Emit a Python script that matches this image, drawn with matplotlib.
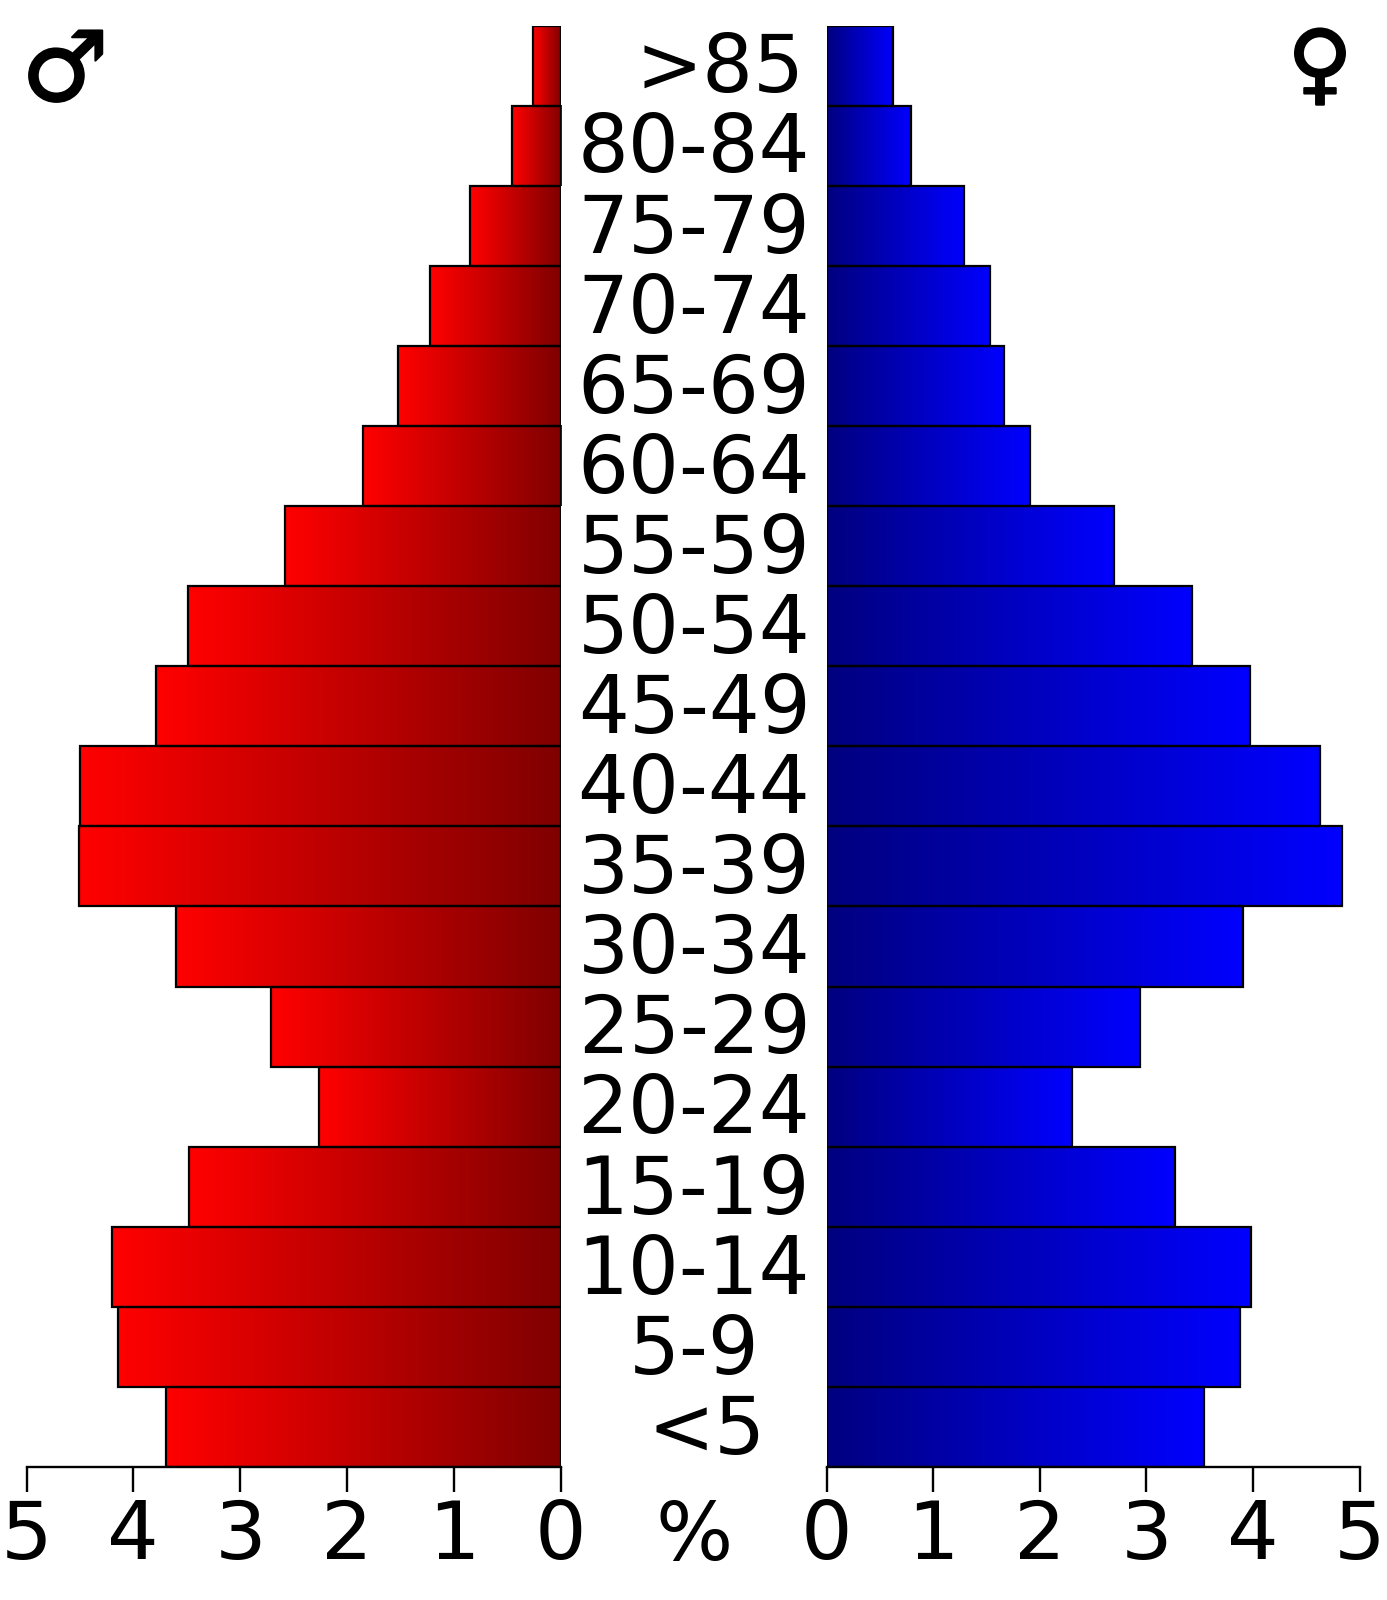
import numpy as np
import matplotlib
matplotlib.use("Agg")
from matplotlib import pyplot as plt
from matplotlib import patheffects
from matplotlib.colors import LinearSegmentedColormap
from matplotlib.transforms import blended_transform_factory

ages = ["<5", "5-9", "10-14", "15-19", "20-24", "25-29", "30-34", "35-39", "40-44",
        "45-49", "50-54", "55-59", "60-64", "65-69", "70-74", "75-79", "80-84", ">85"]
male = [3.69, 4.14, 4.20, 3.48, 2.26, 2.71, 3.60, 4.51, 4.50,
        3.79, 3.49, 2.58, 1.855, 1.52, 1.22, 0.85, 0.46, 0.26]
female = [3.54, 3.88, 3.98, 3.27, 2.30, 2.94, 3.91, 4.83, 4.63,
          3.97, 3.43, 2.70, 1.91, 1.66, 1.53, 1.29, 0.79, 0.62]
ticks = [0, 1, 2, 3, 4, 5]

W, H = 1387, 1600
TICK_FONT = 58.5
AGE_FONT = 57.7

fig = plt.figure(figsize=(W / 100, H / 100), dpi=100)


def make_axes(x0, x1):
    return fig.add_axes([x0 / W, 1 - 1467 / H, (x1 - x0) / W, (1467 - 25.5) / H])


def draw_side(ax, values, cmap):
    gradient = np.linspace(0, 1, 256).reshape(1, -1)
    for i, v in enumerate(values):
        ax.imshow(gradient, extent=(0, v, i, i + 1), cmap=cmap, aspect="auto", zorder=2)
        ax.barh(i + 0.5, v, height=1, fill=False, edgecolor="black", linewidth=1.6, zorder=3)
    ax.set_ylim(0, len(values))
    ax.set_yticks([])
    ax.set_xticks(ticks)
    ax.tick_params(axis="x", length=18, width=1.7, labelsize=TICK_FONT, pad=4)
    for name in ["top", "left", "right"]:
        ax.spines[name].set_visible(False)
    ax.spines["bottom"].set_linewidth(1.7)


reds = LinearSegmentedColormap.from_list("reds", ["#800000", "#ff0000"])
blues = LinearSegmentedColormap.from_list("blues", ["#000080", "#0000ff"])

ax_m = make_axes(26.5, 560.7)
draw_side(ax_m, male, reds)
ax_m.set_xlim(5, 0)

ax_f = make_axes(826.5, 1359.7)
draw_side(ax_f, female, blues)
ax_f.set_xlim(0, 5)

# age labels sit between the two halves, the < and > ones are a bit off centre
shift = {">85": 26, "<5": 13}
trans = blended_transform_factory(fig.transFigure, ax_m.transData)
for i, age in enumerate(ages):
    x = (694 + shift.get(age, 0)) / W
    fig.text(x, i + 0.165, age, transform=trans, fontsize=AGE_FONT, ha="center", va="baseline")

fig.text(694 / W, 1 - 1560 / H, "%", fontsize=TICK_FONT, ha="center", va="baseline")

# the symbols are heavier in the original
bold = [patheffects.withStroke(linewidth=1.5, foreground="black")]
fig.text(65 / W, 1 - 74 / H, "\u2642", fontsize=70, ha="center", va="center", path_effects=bold)
fig.text(1320 / W, 1 - 69 / H, "\u2640", fontsize=64, ha="center", va="center", path_effects=bold)

fig.savefig("out.png", dpi=100)
